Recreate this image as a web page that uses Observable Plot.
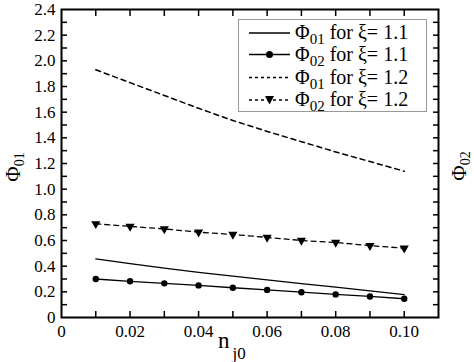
<!DOCTYPE html>
<html><head><meta charset="utf-8">
<script src="https://cdn.jsdelivr.net/npm/d3@7"></script>
<script src="https://cdn.jsdelivr.net/npm/@observablehq/plot@0.6"></script>
<style>
body{margin:0;background:#fff}
svg, svg text, svg tspan{font-family:"Liberation Serif","DejaVu Serif","Times New Roman",serif !important}
</style>
</head><body><div id="chart"></div>
<script>
const nj0 = [0.01,0.02,0.03,0.04,0.05,0.06,0.07,0.08,0.09,0.10];
const phi01_xi11 = [0.457,0.420,0.385,0.352,0.322,0.293,0.264,0.236,0.207,0.178];
const phi02_xi11 = [0.300,0.282,0.266,0.250,0.232,0.215,0.197,0.180,0.164,0.146];
const phi01_xi12 = [1.930,1.830,1.730,1.630,1.535,1.450,1.370,1.290,1.215,1.140];
const phi02_xi12 = [0.730,0.710,0.690,0.665,0.647,0.624,0.600,0.585,0.560,0.540];
const xTicks = [0.01,0.02,0.03,0.04,0.05,0.06,0.07,0.08,0.09,0.10];
const xLabels = [0,0.02,0.04,0.06,0.08,0.10];
const yTicks = [0.1,0.2,0.3,0.4,0.5,0.6,0.7,0.8,0.9,1.0,1.1,1.2,1.3,1.4,1.5,1.6,1.7,1.8,1.9,2.0,2.1,2.2,2.3];
const yLabels = [0,0.2,0.4,0.6,0.8,1.0,1.2,1.4,1.6,1.8,2.0,2.2,2.4];
const legendItems = [
  {sym:"Φ", sub:"01", rest:" for ξ= 1.1", dash:null, marker:null},
  {sym:"Φ", sub:"02", rest:" for ξ= 1.1", dash:null, marker:"circle"},
  {sym:"Φ", sub:"01", rest:" for ξ= 1.2", dash:"3,3", marker:null},
  {sym:"Φ", sub:"02", rest:" for ξ= 1.2", dash:"3,3", marker:"triangle"}
];

const FONT = "'Liberation Serif', 'DejaVu Serif', 'Times New Roman', serif";
const rows = (ys) => nj0.map((x,i) => ({x, y: ys[i]}));
const s1 = rows(phi01_xi11), s2 = rows(phi02_xi11), s3 = rows(phi01_xi12), s4 = rows(phi02_xi12);
const fx = d => d === 0 ? "0" : d.toFixed(2);
const fy = d => d === 0 ? "0" : d.toFixed(1);
const blank = () => "";

const chart = Plot.plot({
  width: 474, height: 362,
  marginLeft: 61, marginRight: 36, marginTop: 9, marginBottom: 45,
  style: {fontFamily: FONT, fontSize: "17px", color: "#000", background: "#fff"},
  x: {domain: [0, 0.11]},
  y: {domain: [0, 2.4]},
  marks: [
    Plot.axisX({anchor: "bottom", ticks: xTicks, tickSize: -6, tickFormat: blank, label: null, strokeWidth: 1.5}),
    Plot.axisX({anchor: "bottom", ticks: xLabels, tickSize: 0, tickPadding: 7, tickFormat: fx, label: null}),
    Plot.axisX({anchor: "top", ticks: xTicks, tickSize: -6, tickFormat: blank, label: null, strokeWidth: 1.5}),
    Plot.axisY({anchor: "left", ticks: yTicks, tickSize: -6, tickFormat: blank, label: null, strokeWidth: 1.5}),
    Plot.axisY({anchor: "left", ticks: yLabels, tickSize: 0, tickPadding: 6, tickFormat: fy, label: null}),
    Plot.axisY({anchor: "right", ticks: yTicks, tickSize: -6, tickFormat: blank, label: null, strokeWidth: 1.5}),
    Plot.line(s1, {x: "x", y: "y", stroke: "#000", strokeWidth: 1.3}),
    Plot.line(s2, {x: "x", y: "y", stroke: "#000", strokeWidth: 1.3}),
    Plot.dot(s2, {x: "x", y: "y", r: 3.2, fill: "#000"}),
    Plot.line(s3, {x: "x", y: "y", stroke: "#000", strokeWidth: 1.5, strokeDasharray: "5,4"}),
    Plot.line(s4, {x: "x", y: "y", stroke: "#000", strokeWidth: 1.3, strokeDasharray: "5,4"}),
    Plot.dot(s4, {x: "x", y: "y", r: 3.4, symbol: "triangle", rotate: 180, fill: "#000"}),
    Plot.frame({stroke: "#000", strokeWidth: 2})
  ]
});
document.getElementById("chart").appendChild(chart);

const svg = d3.select(chart);
// axis labels
const yl = svg.append("text").attr("transform", "translate(20,167) rotate(-90)")
  .attr("text-anchor", "middle").attr("font-size", 21).attr("fill", "#000");
yl.append("tspan").text("Φ");
yl.append("tspan").attr("font-size", 14).attr("dy", 4).text("01");
const yr = svg.append("text").attr("transform", "translate(466,166) rotate(-90)")
  .attr("text-anchor", "middle").attr("font-size", 21).attr("fill", "#000");
yr.append("tspan").text("Φ");
yr.append("tspan").attr("font-size", 14).attr("dy", 4).text("02");
const xl = svg.append("text").attr("x", 218).attr("y", 348).attr("text-anchor", "start")
  .attr("font-size", 23).attr("fill", "#000");
xl.append("tspan").text("n");
xl.append("tspan").attr("font-size", 17).attr("dx", 3).attr("dy", 11).text("j0");

// legend
const lg = svg.append("g").attr("text-anchor", "start");
lg.append("rect").attr("x", 238.5).attr("y", 19.5).attr("width", 188).attr("height", 92)
  .attr("fill", "#fff").attr("stroke", "#999").attr("stroke-width", 1);
const rowY = [33, 54.5, 77.5, 100];
legendItems.forEach((it, i) => {
  const y = rowY[i];
  const ln = lg.append("line").attr("x1", 249).attr("x2", 290).attr("y1", y).attr("y2", y)
    .attr("stroke", "#000").attr("stroke-width", 1.3);
  if (it.dash) ln.attr("stroke-dasharray", it.dash);
  if (it.marker === "circle") lg.append("circle").attr("cx", 269.5).attr("cy", y).attr("r", 3.5).attr("fill", "#000");
  if (it.marker === "triangle") lg.append("path").attr("d", `M${265},${y-4}L${274},${y-4}L${269.5},${y+4.5}Z`).attr("fill", "#000");
  const t = lg.append("text").attr("x", 295).attr("y", y + 6).attr("font-size", 20).attr("fill", "#000");
  t.append("tspan").text(it.sym);
  t.append("tspan").attr("font-size", 15).attr("dy", 5).text(it.sub);
  t.append("tspan").attr("dy", -5).text(it.rest);
});
svg.selectAll("text").attr("font-family", FONT);
</script>
</body></html>
